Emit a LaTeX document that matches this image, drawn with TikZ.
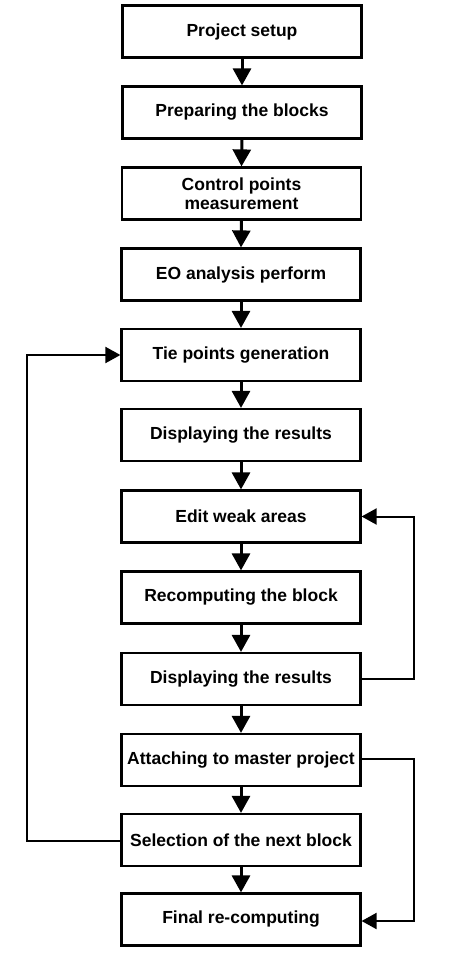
\documentclass[tikz,border=0pt]{standalone}
\usepackage{fontspec}
\setmainfont{Liberation Sans}
\usetikzlibrary{arrows.meta}
\begin{document}
\begin{tikzpicture}[x=1pt,y=-1pt,
  stepbox/.style={draw, line width=2.2pt, minimum width=239pt, minimum height=52pt, inner sep=0pt, align=center, font=\bfseries\fontsize{17.5}{19}\selectfont},
  flow/.style={line width=3pt, -{Triangle[width=18pt,length=17pt]}},
  loop/.style={line width=2pt, -{Triangle[width=16pt,length=15pt]}}]
\useasboundingbox (0,0) rectangle (474,964);
\fill[white] (0,0) rectangle (474,964);
\node[stepbox] (n1) at (242,31.5) {Project setup};
\node[stepbox] (n2) at (242,112.5) {Preparing the blocks};
\node[stepbox] (n3) at (241.5,193.5) {Control points\\measurement};
\node[stepbox] (n4) at (241,274.5) {EO analysis perform};
\node[stepbox] (n5) at (241,355) {Tie points generation};
\node[stepbox] (n6) at (241,435) {Displaying the results};
\node[stepbox] (n7) at (241,516.5) {Edit weak areas};
\node[stepbox] (n8) at (241,597.5) {Recomputing the block};
\node[stepbox] (n9) at (241,679) {Displaying the results};
\node[stepbox] (n10) at (241,760) {Attaching to master project};
\node[stepbox] (n11) at (241,840) {Selection of the next block};
\node[stepbox] (n12) at (241,919.5) {Final re-computing};
\foreach \a/\b in {n1/n2,n2/n3,n3/n4,n4/n5,n5/n6,n6/n7,n7/n8,n8/n9,n9/n10,n10/n11,n11/n12}
  \draw[flow] (\a.south) -- (\b.north);
\coordinate (l1) at (27,841);
\coordinate (l2) at (27,355);
\draw[loop] (n11.west |- l1) -- (l1) -- (l2) -- (n5.west);
\coordinate (r1) at (414,679);
\coordinate (r2) at (414,516.5);
\draw[loop] (n9.east) -- (r1) -- (r2) -- (n7.east);
\coordinate (r3) at (414,759);
\coordinate (r4) at (414,921);
\draw[loop] (n10.east |- r3) -- (r3) -- (r4) -- (n12.east |- r4);
\end{tikzpicture}
\end{document}
